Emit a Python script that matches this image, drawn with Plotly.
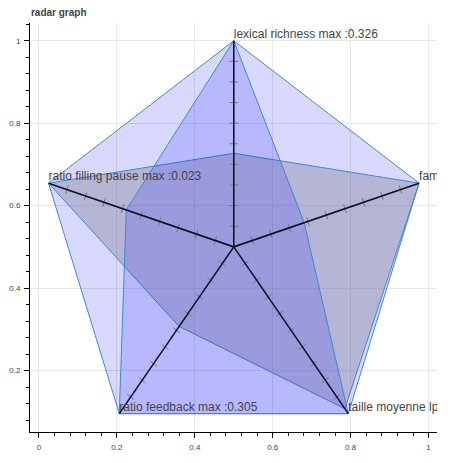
import numpy as np
from plotly import graph_objs as go

# axis names, clockwise from the top
axis_labels = [
    "lexical richness max :0.326",
    "familiarity max :0.412",
    "taille moyenne lpu max :0.187",
    "ratio feedback max :0.305",
    "ratio filling pause max :0.023",
]
# values as a share of each axis max
full_values = [1.0, 1.0, 1.0, 1.0, 1.0]
grey_values = [0.454, 1.0, 0.97, 0.477, 1.0]
blue_values = [1.0, 0.38, 1.0, 1.0, 0.58]
axis_ticks = [0.1, 0.2, 0.3, 0.4, 0.5, 0.6, 0.7, 0.8, 0.9]

center = 0.5
radius = 0.5
angles = np.pi / 2 - np.arange(5) * 2 * np.pi / 5


def to_xy(values):
    r = radius * np.array(values)
    x = center + r * np.cos(angles)
    y = center + r * np.sin(angles)
    return np.append(x, x[0]), np.append(y, y[0])


def polygon(values, fill):
    x, y = to_xy(values)
    return go.Scatter(
        x=x, y=y, mode="lines", fill="toself", fillcolor=fill,
        line=dict(color="#3f88d0", width=1), hoverinfo="skip", showlegend=False,
    )


fig = go.Figure()
fig.add_trace(polygon(full_values, "rgba(0,0,255,0.15)"))
fig.add_trace(polygon(grey_values, "rgba(110,110,130,0.33)"))
fig.add_trace(polygon(blue_values, "rgba(0,0,255,0.15)"))

# radial axes
ax_x, ax_y = [], []
tk_x, tk_y = [], []
half = 0.011
for a in angles:
    ax_x += [center, center + radius * np.cos(a), None]
    ax_y += [center, center + radius * np.sin(a), None]
    for t in axis_ticks:
        px = center + radius * t * np.cos(a)
        py = center + radius * t * np.sin(a)
        nx, ny = -np.sin(a), np.cos(a)
        tk_x += [px - half * nx, px + half * nx, None]
        tk_y += [py - half * ny, py + half * ny, None]

fig.add_trace(go.Scatter(x=tk_x, y=tk_y, mode="lines", line=dict(color="#777777", width=1),
                         hoverinfo="skip", showlegend=False))
fig.add_trace(go.Scatter(x=ax_x, y=ax_y, mode="lines", line=dict(color="#10102a", width=1.6),
                         hoverinfo="skip", showlegend=False))

lx, ly = to_xy(full_values)
fig.add_trace(go.Scatter(
    x=lx[:-1], y=ly[:-1], mode="text", text=axis_labels, textposition="top right",
    textfont=dict(family="Liberation Sans, Arial", size=12, color="#444444"),
    cliponaxis=True, hoverinfo="skip", showlegend=False,
))

axis_style = dict(
    showgrid=True, gridcolor="#e8e8e8", gridwidth=1, zeroline=False,
    showline=True, linecolor="black", linewidth=1, automargin=False,
    ticks="outside", ticklen=5, tickcolor="black", dtick=0.2,
    minor=dict(ticks="outside", ticklen=3, tickcolor="black", dtick=0.04, showgrid=False),
    tickfont=dict(family="Liberation Sans, Arial", size=8, color="#444444"),
)

# the page body adds an 8px margin, so the figure is kept a bit smaller
fig.update_layout(
    width=442, height=447,
    margin=dict(l=22, r=13, t=15, b=23),
    paper_bgcolor="white", plot_bgcolor="white",
    title=dict(text="<b>radar graph</b>", x=0.052, xanchor="left", y=0.989, yanchor="middle",
               font=dict(family="Liberation Sans, Arial", size=10, color="#444444")),
    xaxis=dict(range=[-0.023, 1.0216], tick0=0, ticklabelstandoff=2, **axis_style),
    yaxis=dict(range=[0.051, 1.043], tick0=0, ticklabelstandoff=2, **axis_style),
)

fig.write_html("out.html")
